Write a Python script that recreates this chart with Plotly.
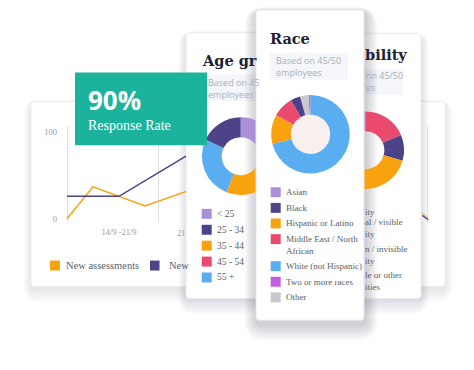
import plotly.graph_objects as go

W, H = 474, 370

# ---------------- data ----------------
response_rate = "90%"
response_label = "Response Rate"

line_series = ["New assessments", "New responses"]
assess_x = [0, 1, 3, 5]
assess_y = [0, 37, 15, 36]
resp_x = [0, 2, 5]
resp_y = [26, 26, 80]
week_positions = [2, 5]
week_labels = ["14/9 -21/9", "21/9 -28/9"]
y_tick_values = [0, 100]

far_x = [0.05, 0.3]
far_assess = [7, 0]
far_resp = [4, -1]

subtitle_lines = ["Based on 45/50", "employees"]

age_title = "Age group"
age_labels = ["< 25", "25 - 34", "35 - 44", "45 - 54", "55 +"]
age_values = [15, 18, 27, 14, 26]
age_clockwise = [0, 3, 2, 4, 1]

race_title = "Race"
race_labels = ["Asian", "Black", "Hispanic or Latino", "Middle East / North African",
               "White (not Hispanic)", "Two or more races", "Other"]
race_values = [0, 4, 12, 8.7, 71, 0.8, 3.5]
race_clockwise = [4, 2, 3, 1, 6, 5, 0]

dis_title = "Disability"
dis_labels = ["No disability", "Physical / visible disability",
              "Hidden / invisible disability", "Multiple or other disabilities"]
dis_values = [45.6, 10.8, 25, 18.6]
dis_clockwise = [3, 1, 2, 0]
dis_visible_fragments = ["ity", "al / visible", "ity", "n / invisible", "ity", "le or other", "ities"]

# ---------------- style ----------------
LP, DP, OR, PK, BL, VI, GR = "#a88fd7", "#4d4388", "#f8a20f", "#e94a6e", "#5badf2", "#c25ee6", "#c9c9cd"
age_colors = [LP, DP, OR, PK, BL]
race_colors = [LP, DP, OR, PK, BL, VI, GR]
dis_colors = [LP, DP, OR, PK]
TEAL = "#1bb39b"
TITLE = "#1d2233"
LEG = "#5a5e66"
SUB = "#a9b0ba"
SERIF = "Liberation Serif"
TSERIF = "DejaVu Serif"
SANS = "Open Sans"


def X(px):
    return px / W


def Y(py):
    return 1 - py / H


def rrect_path(x0, y0, x1, y1, r):
    return (f"M {X(x0 + r)},{Y(y0)} L {X(x1 - r)},{Y(y0)} Q {X(x1)},{Y(y0)} {X(x1)},{Y(y0 + r)} "
            f"L {X(x1)},{Y(y1 - r)} Q {X(x1)},{Y(y1)} {X(x1 - r)},{Y(y1)} "
            f"L {X(x0 + r)},{Y(y1)} Q {X(x0)},{Y(y1)} {X(x0)},{Y(y1 - r)} "
            f"L {X(x0)},{Y(y0 + r)} Q {X(x0)},{Y(y0)} {X(x0 + r)},{Y(y0)} Z")


shapes = []
annotations = []


def card(x0, y0, x1, y1, shadow=True, strength=1.0, layer="below"):
    if shadow:
        for i in range(6):
            s = 1.5 + i * 2.2
            shapes.append(dict(type="path", xref="paper", yref="paper", layer=layer,
                               path=rrect_path(x0 - s * 0.6, y0 - s * 0.3 + 2, x1 + s * 0.6, y1 + s + 3, 4 + s),
                               fillcolor=f"rgba(40,45,70,{0.022 * strength})", line=dict(width=0)))
    shapes.append(dict(type="path", xref="paper", yref="paper", layer=layer,
                       path=rrect_path(x0, y0, x1, y1, 3), fillcolor="white",
                       line=dict(color="#ececee", width=1)))


def box(x0, y0, x1, y1, color, layer="below"):
    shapes.append(dict(type="rect", xref="paper", yref="paper", layer=layer,
                       x0=X(x0), x1=X(x1), y0=Y(y1), y1=Y(y0), fillcolor=color, line=dict(width=0)))


def txt(x, y, s, size, color, family, weight="normal", xanchor="left", yanchor="middle"):
    annotations.append(dict(x=X(x), y=Y(y), xref="paper", yref="paper", text=s, showarrow=False,
                            xanchor=xanchor, yanchor=yanchor, align="left", borderpad=0, borderwidth=0,
                            font=dict(size=size, color=color, family=family, weight=weight)))


# ---- background cards (bottom to top) ----
card(380, 102, 445, 288, strength=0.9)
card(31, 102, 262, 288, strength=0.9)
card(300, 34, 421, 300, strength=1.0)
box(340, 70, 403, 95, "#f4f6f9")
card(186, 33, 300, 300, strength=1.1)
box(203, 75, 300, 102, "#f4f6f9")
# race card shadow only (card itself drawn as trace to sit above the side donuts)
for i in range(7):
    s = 1.5 + i * 2.4
    shapes.append(dict(type="path", xref="paper", yref="paper", layer="below",
                       path=rrect_path(256 - s * 0.7, 10 - s * 0.3 + 2, 366 + s * 0.7, 322 + s + 4, 4 + s),
                       fillcolor="rgba(40,45,70,0.03)", line=dict(width=0)))

# ---- teal highlight box ----
box(75, 73, 207, 146, TEAL, layer="above")
txt(88, 101, f"<b>{response_rate}</b>", 26, "white", SANS)
txt(88, 126, response_label, 14, "white", SERIF)

# ---- line chart legend ----
box(50, 262, 60, 272, OR, layer="above")
txt(65.5, 267, line_series[0], 10.5, LEG, SERIF)
box(150, 262, 159.5, 272, DP, layer="above")
txt(169, 267, line_series[1].split()[0], 10.5, LEG, SERIF)
txt(177, 234.5, week_labels[1][:2], 8.5, "#9a9a9a", SERIF)

# ---- age card texts ----
txt(201.5, 61, age_title[:6], 14.5, TITLE, TSERIF, weight="bold")
txt(207.5, 89, subtitle_lines[0][:11] + "<br>" + subtitle_lines[1], 9, SUB, SANS)
for i, lab in enumerate(age_labels):
    yc = 215 + 16 * i
    box(201.7, yc - 5, 211.7, yc + 5, age_colors[i], layer="above")
    txt(217.3, yc, lab, 9.5, LEG, SERIF)

# ---- race card texts ----
txt(270, 38.5, race_title, 14.5, TITLE, TSERIF, weight="bold")
box(270, 53, 348, 80, "#f4f6f9", layer="above")
txt(275.5, 66.5, "<br>".join(subtitle_lines), 9, SUB, SANS)
yc = 193.3
for i, lab in enumerate(race_labels):
    box(270.7, yc - 5, 280.7, yc + 5, race_colors[i], layer="above")
    if "North " in lab:
        first, second = lab.split("North ")
        txt(286, yc + 5.8, first + "North<br>" + second, 9, LEG, SERIF)
        yc += 11.5
    else:
        txt(286, yc, lab, 9, LEG, SERIF)
    yc += 15.7

# ---- disability card texts (mostly hidden behind race card) ----
txt(364.5, 55, dis_title[4:], 14.5, TITLE, TSERIF, weight="bold")
txt(366, 81.5, subtitle_lines[0][6:] + "<br>" + subtitle_lines[1][7:], 9, SUB, SANS)
frag_y = [213, 229.5, 256.5, 283]
fi = 0
for yy, nlines in zip(frag_y, [1, 2, 2, 2]):
    txt(364.5, yy, "<br>".join(dis_visible_fragments[fi:fi + nlines]), 9, LEG, SERIF)
    fi += nlines

fig = go.Figure()

# ---- line chart ----
fig.add_trace(go.Scatter(x=assess_x, y=assess_y, mode="lines", line=dict(color=OR, width=1.5),
                         hoverinfo="skip", showlegend=False, xaxis="x", yaxis="y"))
fig.add_trace(go.Scatter(x=resp_x, y=resp_y, mode="lines", line=dict(color=DP, width=1.5),
                         hoverinfo="skip", showlegend=False, xaxis="x", yaxis="y"))
fig.add_trace(go.Scatter(x=far_x, y=far_assess, mode="lines", line=dict(color="#e8c070", width=1.3),
                         hoverinfo="skip", showlegend=False, xaxis="x2", yaxis="y2"))
fig.add_trace(go.Scatter(x=far_x, y=far_resp, mode="lines", line=dict(color=DP, width=1.3),
                         hoverinfo="skip", showlegend=False, xaxis="x2", yaxis="y2"))

# ---- side donuts (pie layer) ----
fig.add_trace(go.Pie(values=[age_values[i] for i in age_clockwise],
                     labels=[age_labels[i] for i in age_clockwise],
                     marker=dict(colors=[age_colors[i] for i in age_clockwise], line=dict(width=0)),
                     hole=0.49, sort=False, direction="clockwise", rotation=0, textinfo="none",
                     hoverinfo="skip", showlegend=False,
                     domain=dict(x=[X(201.7), X(279.7)], y=[Y(196), Y(118)])))
fig.add_trace(go.Pie(values=[dis_values[i] for i in dis_clockwise],
                     labels=[dis_labels[i] for i in dis_clockwise],
                     marker=dict(colors=[dis_colors[i] for i in dis_clockwise], line=dict(width=0)),
                     hole=0.49, sort=False, direction="clockwise", rotation=0, textinfo="none",
                     hoverinfo="skip", showlegend=False,
                     domain=dict(x=[X(326.3), X(404.3)], y=[Y(190), Y(112)])))

# ---- race card surface (treemap layer sits above pies) ----
fig.add_trace(go.Treemap(labels=["card"], parents=[""], values=[1],
                         marker=dict(colors=["white"], line=dict(color="#e6e6ea", width=1), cornerradius=3),
                         textinfo="none", hoverinfo="skip", pathbar=dict(visible=False),
                         domain=dict(x=[X(256), X(364)], y=[Y(322), Y(10)])))

# ---- race donut (sunburst layer, above the card) ----
ccw = list(reversed(race_clockwise))
fig.add_trace(go.Sunburst(ids=["root"] + [race_labels[i] for i in ccw],
                          labels=[""] + [race_labels[i] for i in ccw],
                          parents=[""] + ["root"] * len(ccw),
                          values=[0] + [race_values[i] for i in ccw],
                          branchvalues="remainder", sort=False, rotation=90,
                          marker=dict(colors=["#f8efef"] + [race_colors[i] for i in ccw],
                                      line=dict(width=0)),
                          leaf=dict(opacity=1), textinfo="none", hoverinfo="skip",
                          domain=dict(x=[X(271), X(350)], y=[Y(174.5), Y(95.5)])))

tickfont = dict(family=SERIF, size=8.5, color="#9a9a9a")
fig.update_layout(
    width=W, height=H, margin=dict(l=0, r=0, t=0, b=0),
    paper_bgcolor="white", plot_bgcolor="rgba(0,0,0,0)", showlegend=False,
    xaxis=dict(domain=[X(60), X(186)], range=[(60 - 67) / 26, (186 - 67) / 26],
               tickvals=week_positions, ticktext=week_labels, showgrid=False, zeroline=False,
               showline=False, ticks="", tickfont=tickfont, ticklabelstandoff=4,
               minor=dict(tickmode="array", tickvals=[0, 3.5], showgrid=True, gridcolor="#e0e0e2",
                          gridwidth=1, ticks=""),
               fixedrange=True, anchor="y"),
    yaxis=dict(domain=[Y(223), Y(127)], range=[(220 - 223) / 0.87, (220 - 127) / 0.87],
               tickvals=y_tick_values, showgrid=False, zeroline=False, showline=False, ticks="",
               tickfont=tickfont, ticklabelstandoff=2, fixedrange=True, anchor="x"),
    xaxis2=dict(domain=[X(421), X(445)], range=[0, 1], tickvals=[0.29], showgrid=True,
                gridcolor="#e0e0e2", showticklabels=False, zeroline=False, ticks="",
                fixedrange=True, anchor="y2"),
    yaxis2=dict(domain=[Y(223), Y(127)], range=[(220 - 223) / 0.87, (220 - 127) / 0.87],
                visible=False, fixedrange=True, anchor="x2"),
    shapes=shapes, annotations=annotations,
)

fig.write_html("out.html", config={"displayModeBar": False},
               post_script="document.body.style.margin='0px';document.body.style.overflow='hidden';")
